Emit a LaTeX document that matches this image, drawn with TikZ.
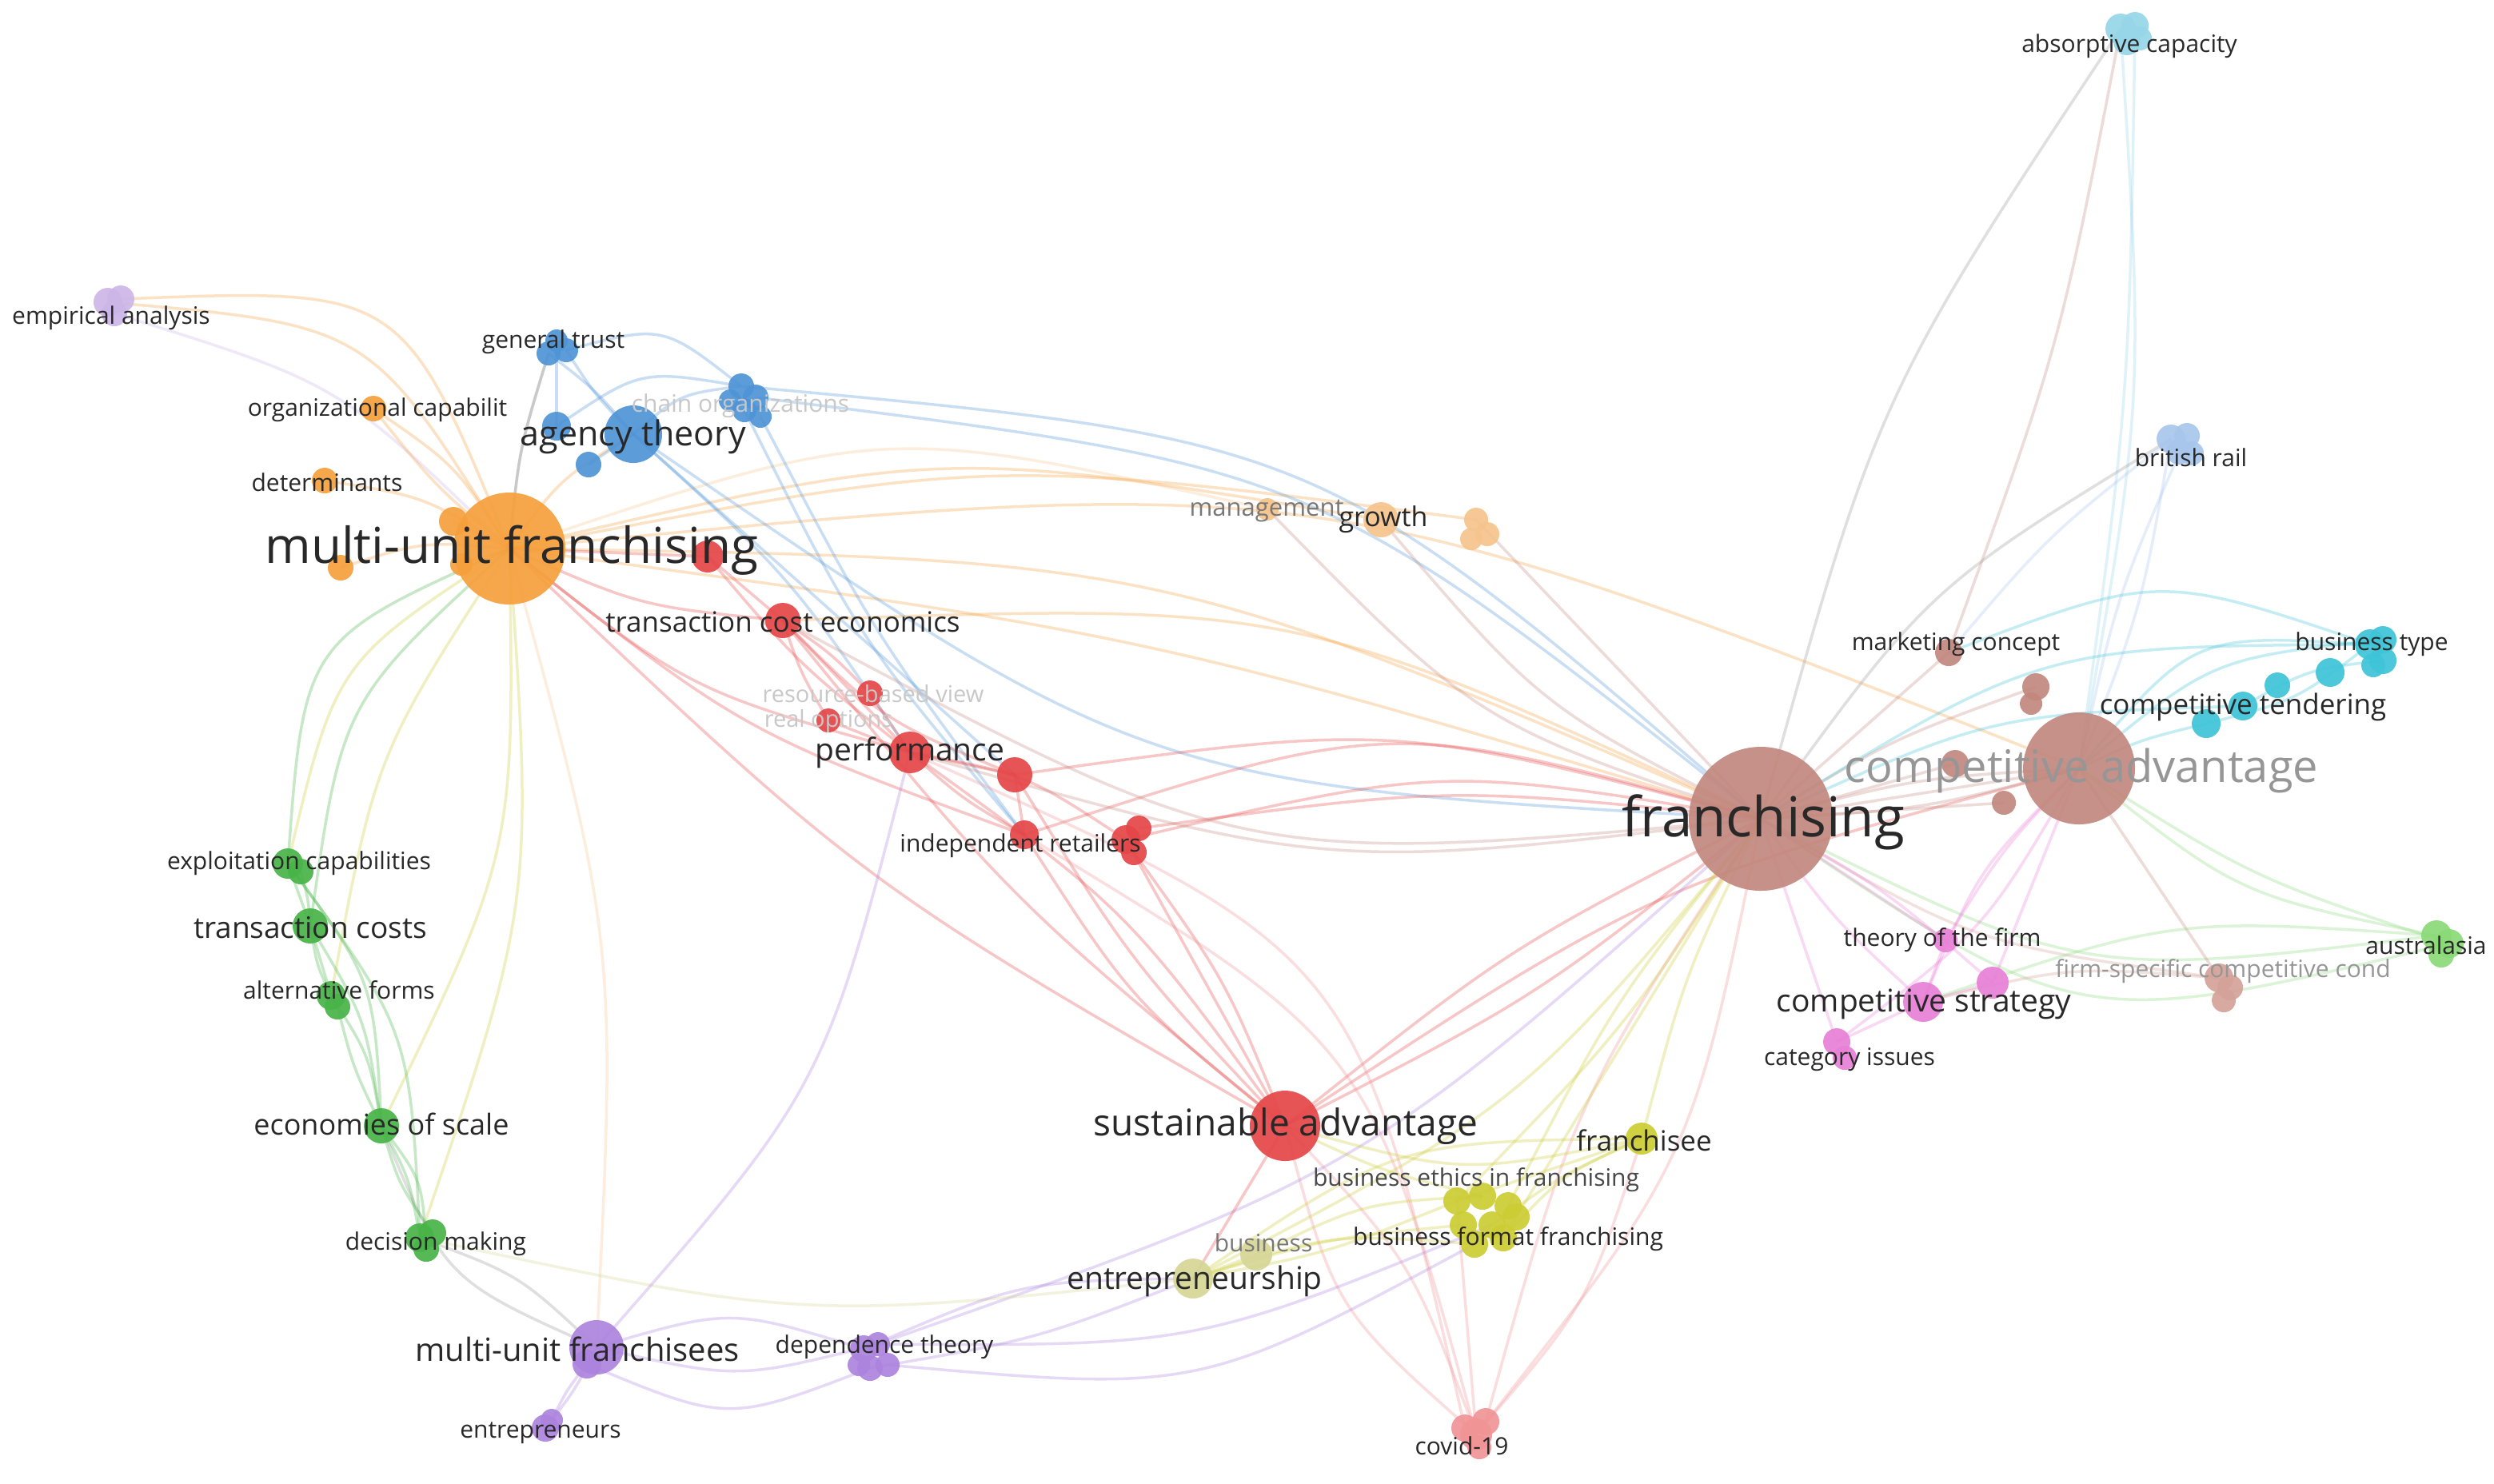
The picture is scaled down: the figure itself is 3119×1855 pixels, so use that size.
\documentclass[tikz,border=0pt]{standalone}
\usepackage{fontspec}
\setmainfont{Open Sans}
\usetikzlibrary{backgrounds,calc}
\definecolor{cred}{RGB}{229,70,72}
\definecolor{cgreen}{RGB}{72,180,72}
\definecolor{cblue}{RGB}{78,148,214}
\definecolor{cyel}{RGB}{204,204,52}
\definecolor{cpur}{RGB}{172,132,222}
\definecolor{ccyan}{RGB}{62,196,216}
\definecolor{corange}{RGB}{246,160,60}
\definecolor{cbrown}{RGB}{194,136,126}
\definecolor{cpink}{RGB}{232,128,214}
\definecolor{clblue}{RGB}{168,198,236}
\definecolor{clgreen}{RGB}{138,218,120}
\definecolor{csalmon}{RGB}{240,148,150}
\definecolor{clpur}{RGB}{204,182,232}
\definecolor{clyel}{RGB}{214,214,150}
\definecolor{clcyan}{RGB}{150,214,232}
\definecolor{clorange}{RGB}{246,196,140}
\definecolor{clbrown}{RGB}{212,162,152}
\definecolor{ctext}{RGB}{40,40,40}
\definecolor{cfade}{RGB}{150,150,150}
\definecolor{cfaint}{RGB}{200,200,200}
\definecolor{cmid}{RGB}{120,120,120}
\tikzset{
  dot/.style={circle, fill=#1, draw=none, inner sep=0pt, fill opacity=0.92, scale=0.1},
  lbl/.style={font=\fontsize{#1}{#1}\selectfont, text=ctext, inner sep=0pt, scale=0.1},
  link/.style={draw=#1, line width=0.35pt, draw opacity=0.3},
}
\begin{document}
\begin{tikzpicture}[x=0.1pt,y=-0.1pt]
\useasboundingbox (0,0) rectangle (3119,1855);
% ---------------- nodes (circles) ----------------
% orange
\node[dot=corange, minimum size=140pt] (muf) at (637,686) {};
\node[dot=corange, minimum size=32pt] (orgcap) at (467,511) {};
\node[dot=corange, minimum size=32pt] (determ) at (406,601) {};
\node[dot=corange, minimum size=36pt] (o1) at (567,652) {};
\node[dot=corange, minimum size=32pt] (o2) at (426,710) {};
\node[dot=corange, minimum size=28pt] (o3) at (577,706) {};
\node[dot=clorange, minimum size=28pt] (mgmt) at (1585,637) {};
\node[dot=clorange, minimum size=44pt] (growth) at (1727,650) {};
\node[dot=clorange, minimum size=30pt] (o4) at (1846,650) {};
\node[dot=clorange, minimum size=30pt] (o5) at (1860,668) {};
\node[dot=clorange, minimum size=28pt] (o6) at (1840,674) {};
% blue
\node[dot=cblue, minimum size=72pt] (agency) at (792,543) {};
\node[dot=cblue, minimum size=30pt] (gtrust) at (686,442) {};
\node[dot=cblue, minimum size=30pt] (gtrust2) at (708,438) {};
\node[dot=cblue, minimum size=28pt] (gtrust3) at (696,426) {};
\node[dot=cblue, minimum size=36pt] (b1) at (696,533) {};
\node[dot=cblue, minimum size=32pt] (b2) at (736,581) {};
\node[dot=cblue, minimum size=32pt] (chain) at (927,483) {};
\node[dot=cblue, minimum size=32pt] (chain2) at (945,497) {};
\node[dot=cblue, minimum size=30pt] (chain3) at (931,513) {};
\node[dot=cblue, minimum size=28pt] (chain4) at (951,521) {};
\node[dot=cblue, minimum size=28pt] (chain5) at (913,501) {};
% red
\node[dot=cred, minimum size=44pt] (tce) at (979,776) {};
\node[dot=cred, minimum size=40pt] (r1) at (885,696) {};
\node[dot=cred, minimum size=32pt] (rbv) at (1088,867) {};
\node[dot=cred, minimum size=30pt] (realopt) at (1036,901) {};
\node[dot=cred, minimum size=52pt] (perf) at (1138,941) {};
\node[dot=cred, minimum size=44pt] (r2) at (1269,969) {};
\node[dot=cred, minimum size=36pt] (indep) at (1281,1044) {};
\node[dot=cred, minimum size=36pt] (r3) at (1408,1050) {};
\node[dot=cred, minimum size=32pt] (r3b) at (1424,1036) {};
\node[dot=cred, minimum size=32pt] (r3c) at (1418,1066) {};
\node[dot=cred, minimum size=88pt] (sustadv) at (1607,1408) {};
\node[dot=csalmon, minimum size=40pt] (covid) at (1846,1794) {};
\node[dot=csalmon, minimum size=34pt] (covid2) at (1858,1778) {};
\node[dot=csalmon, minimum size=34pt] (covid3) at (1832,1786) {};
\node[dot=csalmon, minimum size=30pt] (covid4) at (1850,1810) {};
% yellow
\node[dot=cyel, minimum size=40pt] (franchisee) at (2053,1424) {};
\node[dot=cyel, minimum size=34pt] (eth1) at (1822,1502) {};
\node[dot=cyel, minimum size=34pt] (eth2) at (1854,1496) {};
\node[dot=cyel, minimum size=34pt] (eth3) at (1886,1508) {};
\node[dot=cyel, minimum size=34pt] (eth4) at (1830,1532) {};
\node[dot=cyel, minimum size=34pt] (eth5) at (1866,1532) {};
\node[dot=cyel, minimum size=34pt] (eth6) at (1896,1522) {};
\node[dot=cyel, minimum size=34pt] (eth7) at (1844,1556) {};
\node[dot=cyel, minimum size=34pt] (eth8) at (1880,1548) {};
\node[dot=clyel, minimum size=40pt] (business) at (1571,1569) {};
\node[dot=clyel, minimum size=50pt] (entre) at (1492,1599) {};
% green
\node[dot=cgreen, minimum size=38pt] (exploit) at (360,1080) {};
\node[dot=cgreen, minimum size=32pt] (exploit2) at (376,1090) {};
\node[dot=cgreen, minimum size=44pt] (tcosts) at (388,1158) {};
\node[dot=cgreen, minimum size=36pt] (altf) at (414,1245) {};
\node[dot=cgreen, minimum size=32pt] (altf2) at (422,1259) {};
\node[dot=cgreen, minimum size=44pt] (econ) at (477,1408) {};
\node[dot=cgreen, minimum size=36pt] (dec) at (525,1548) {};
\node[dot=cgreen, minimum size=34pt] (dec2) at (541,1542) {};
\node[dot=cgreen, minimum size=32pt] (dec3) at (533,1562) {};
\node[dot=clgreen, minimum size=38pt] (austral) at (3047,1170) {};
\node[dot=clgreen, minimum size=36pt] (austral2) at (3063,1180) {};
\node[dot=clgreen, minimum size=32pt] (austral3) at (3053,1194) {};
% purple
\node[dot=clpur, minimum size=36pt] (emp) at (135,378) {};
\node[dot=clpur, minimum size=34pt] (emp2) at (151,374) {};
\node[dot=clpur, minimum size=32pt] (emp3) at (143,392) {};
\node[dot=cpur, minimum size=68pt] (mufs) at (746,1685) {};
\node[dot=cpur, minimum size=36pt] (mufs2) at (734,1706) {};
\node[dot=cpur, minimum size=34pt] (entrep) at (682,1786) {};
\node[dot=cpur, minimum size=28pt] (entrep2) at (690,1776) {};
\node[dot=cpur, minimum size=34pt] (dep) at (1080,1687) {};
\node[dot=cpur, minimum size=30pt] (dep2) at (1098,1681) {};
\node[dot=cpur, minimum size=32pt] (dep3) at (1088,1711) {};
\node[dot=cpur, minimum size=30pt] (dep4) at (1110,1707) {};
\node[dot=cpur, minimum size=28pt] (dep5) at (1074,1707) {};
% brown
\node[dot=cbrown, minimum size=180pt] (fr) at (2202,1024) {};
\node[dot=cbrown, minimum size=140pt] (compadv) at (2600,961) {};
\node[dot=cbrown, minimum size=34pt] (mkt) at (2437,816) {};
\node[dot=cbrown, minimum size=34pt] (br1) at (2546,859) {};
\node[dot=cbrown, minimum size=28pt] (br2) at (2540,880) {};
\node[dot=cbrown, minimum size=30pt] (br3) at (2506,1004) {};
\node[dot=cbrown, minimum size=34pt] (br4) at (2445,955) {};
\node[dot=clbrown, minimum size=36pt] (firmsp) at (2775,1223) {};
\node[dot=clbrown, minimum size=32pt] (firmsp2) at (2789,1235) {};
\node[dot=clbrown, minimum size=30pt] (firmsp3) at (2781,1251) {};
% pink
\node[dot=cpink, minimum size=30pt] (thefirm) at (2433,1176) {};
\node[dot=cpink, minimum size=50pt] (cstrat) at (2405,1253) {};
\node[dot=cpink, minimum size=40pt] (p1) at (2492,1229) {};
\node[dot=cpink, minimum size=34pt] (category) at (2297,1303) {};
\node[dot=cpink, minimum size=30pt] (category2) at (2307,1323) {};
% cyan
\node[dot=clcyan, minimum size=38pt] (absorp) at (2652,36) {};
\node[dot=clcyan, minimum size=34pt] (absorp2) at (2670,32) {};
\node[dot=clcyan, minimum size=34pt] (absorp3) at (2660,52) {};
\node[dot=clcyan, minimum size=30pt] (absorp4) at (2676,48) {};
\node[dot=ccyan, minimum size=38pt] (btype) at (2964,806) {};
\node[dot=ccyan, minimum size=34pt] (btype2) at (2980,800) {};
\node[dot=ccyan, minimum size=34pt] (btype3) at (2980,826) {};
\node[dot=ccyan, minimum size=30pt] (btype4) at (2968,832) {};
\node[dot=ccyan, minimum size=36pt] (ct1) at (2759,905) {};
\node[dot=ccyan, minimum size=36pt] (ct2) at (2805,883) {};
\node[dot=ccyan, minimum size=32pt] (ct3) at (2848,857) {};
\node[dot=ccyan, minimum size=36pt] (ct4) at (2914,841) {};
% light blue
\node[dot=clblue, minimum size=36pt] (brail) at (2715,549) {};
\node[dot=clblue, minimum size=32pt] (brail2) at (2735,545) {};
\node[dot=clblue, minimum size=32pt] (brail3) at (2725,565) {};
\node[dot=clblue, minimum size=30pt] (brail4) at (2741,567) {};
% ---------------- edges ----------------
\begin{pgfonlayer}{background}
\fill[white] (0,0) rectangle (3119,1855);
\foreach \na/\nb/\col/\bnd in {
 emp/muf/corange/25, emp2/muf/corange/35, emp3/muf/clpur/12,
 orgcap/muf/corange/10, orgcap/muf/corange/-5, determ/muf/corange/10,
 o1/muf/corange/0, o2/muf/corange/10, o3/muf/corange/0,
 muf/agency/corange/10, muf/gtrust/corange/5, muf/growth/corange/10,
 muf/o4/corange/8, muf/mgmt/clorange/14, muf/fr/corange/10, muf/fr/corange/4, muf/compadv/corange/12,
 muf/tce/cred/-8, muf/r1/cred/0, muf/perf/cred/-10, muf/indep/cred/-8, muf/sustadv/cred/-6,
 muf/exploit/cyel/-20, muf/exploit/cgreen/-30, muf/tcosts/cgreen/-18, muf/altf/cyel/-10,
 muf/econ/cyel/12, muf/dec/cyel/10, muf/mufs/clorange/8,
 gtrust/agency/cblue/5, gtrust2/agency/cblue/-5, gtrust3/b1/cblue/0, gtrust/muf/cblue/-5,
 agency/chain/cblue/15, b1/chain/cblue/20, gtrust2/chain/cblue/25, b2/agency/cblue/0,
 chain2/fr/cblue/14, chain/fr/cblue/16, agency/fr/cblue/-14,
 chain3/indep/cblue/-6, chain4/indep/cblue/-4, agency/perf/cblue/6, agency/r2/cblue/0,
 tce/perf/cred/0, tce/rbv/cred/5, tce/realopt/cred/-5, tce/sustadv/cred/-5,
 r1/tce/cred/0, r1/perf/cred/-5, rbv/perf/cred/0, realopt/perf/cred/0,
 perf/r2/cred/0, perf/indep/cred/-5, perf/r3/cred/10, perf/sustadv/cred/8,
 r2/indep/cred/0, r2/fr/cred/10, r2/sustadv/cred/-5,
 indep/fr/cred/15, r3/fr/cred/10, r3b/fr/cred/6,
 indep/sustadv/cred/-8, r3/sustadv/cred/0, r3c/sustadv/cred/6,
 sustadv/fr/cred/5, sustadv/fr/cred/-5, sustadv/compadv/cred/8,
 sustadv/covid/csalmon/-15, sustadv/covid/csalmon/10,
 covid/fr/csalmon/-12, covid2/fr/csalmon/8, covid/indep/csalmon/-20,
 covid/franchisee/csalmon/-10, covid/eth1/csalmon/0, covid3/perf/csalmon/-25,
 tce/r2/cred/-10, tce/fr/corange/12,
 fr/compadv/cbrown/5, fr/compadv/cbrown/-5, fr/compadv/cbrown/0,
 fr/mkt/cbrown/0, fr/br1/cbrown/5, fr/br3/cbrown/0, fr/br4/cbrown/0,
 fr/absorp/cfade/8, mkt/absorp/cbrown/-4,
 compadv/absorp/clcyan/-6, compadv/absorp2/clcyan/-3,
 fr/brail/cfade/10, compadv/brail/clblue/-5, compadv/brail2/clblue/5, mkt/brail/clblue/5,
 fr/btype/ccyan/14, compadv/btype/ccyan/25, compadv/btype2/ccyan/15,
 compadv/ct1/ccyan/5, fr/ct2/ccyan/10, ct1/btype/ccyan/-10, ct2/btype3/ccyan/10, mkt/btype/ccyan/18,
 fr/austral/clgreen/-15, fr/austral2/clgreen/-22, compadv/austral/clgreen/-12, compadv/austral2/clgreen/-6,
 fr/firmsp/clbrown/-10, compadv/firmsp/cbrown/0,
 fr/thefirm/cpink/0, fr/cstrat/cpink/-5, fr/category/cpink/0, fr/p1/cpink/5,
 cstrat/thefirm/cpink/0, cstrat/category/cpink/0, cstrat/p1/cpink/0,
 cstrat/compadv/cpink/10, thefirm/compadv/cpink/5, p1/compadv/cpink/0, category/compadv/cpink/-10,
 cstrat/firmsp/clbrown/8, cstrat/austral/clgreen/10,
 fr/franchisee/cyel/-5, fr/eth1/cyel/5, fr/eth3/cyel/-5, fr/eth8/cyel/0,
 fr/growth/cbrown/10, fr/mgmt/cbrown/12, fr/o4/cbrown/0,
 fr/entre/cyel/10, fr/dep/cpur/10, fr/perf/cbrown/10, fr/tce/cbrown/15,
 franchisee/eth1/cyel/0, franchisee/eth5/cyel/-5, franchisee/eth8/cyel/-10,
 eth1/entre/cyel/5, eth4/entre/cyel/-5, eth7/entre/cyel/-10,
 business/eth2/cyel/10, business/entre/cyel/0,
 franchisee/sustadv/cyel/12, eth2/sustadv/cyel/5, entre/dec/clyel/8,
 franchisee/entre/cyel/-15, sustadv/entre/cred/0,
 mufs/dep/cpur/15, mufs/dep2/cpur/-12, mufs2/dep3/cpur/-20,
 mufs/entrep/cpur/5, mufs2/entrep2/cpur/-5,
 dep/entre/cpur/10, dep3/entre/cpur/-5, dep2/eth5/cpur/-10, dep4/eth7/cpur/-15,
 mufs/dec/cfade/-10, mufs/econ/cfade/20, mufs/perf/cpur/-12,
 exploit/tcosts/cgreen/0, exploit2/tcosts/cgreen/5,
 tcosts/altf/cgreen/0, tcosts/altf2/cgreen/-8,
 altf/econ/cgreen/10, altf2/econ/cgreen/-5, exploit/econ/cgreen/15, tcosts/econ/cgreen/10,
 econ/dec/cgreen/8, econ/dec2/cgreen/-8, econ/dec3/cgreen/15, exploit/dec/cgreen/15}
 {
  \pgfmathsetmacro\kk{\bnd/50}
  \draw[link=\col] (\na.center) .. controls ($(\na.center)!0.5!(\nb.center)!\kk!90:(\nb.center)$) .. (\nb.center);
 }
\end{pgfonlayer}
% ---------------- labels ----------------
\node[lbl=30] (l-emp) at (139,398) {empirical analysis};
\node[lbl=30] (l-gtrust) at (692,428) {general trust};
\node[lbl=30, text=cfaint] (l-chain) at (926,508) {chain organizations};
\node[lbl=43] (l-agency) at (792,546) {agency theory};
\node[lbl=30] (l-orgcap) at (472,513) {organizational capabilit};
\node[lbl=30] (l-determ) at (409,603) {determinants};
\node[lbl=62] (l-muf) at (640,688) {multi-unit franchising};
\node[lbl=35] (l-tce) at (979,778) {transaction cost economics};
\node[lbl=29, text=cfaint] (l-rbv) at (1092,868) {resource-based view};
\node[lbl=29, text=cfaint] (l-realopt) at (1036,902) {real options};
\node[lbl=39] (l-perf) at (1138,941) {performance};
\node[lbl=30] (l-indep) at (1276,1058) {independent retailers};
\node[lbl=31, text=cmid] (l-mgmt) at (1584,639) {management};
\node[lbl=34] (l-growth) at (1730,650) {growth};
\node[lbl=30] (l-mkt) at (2446,806) {marketing concept};
\node[lbl=30] (l-btype) at (2966,806) {business type};
\node[lbl=35] (l-ct) at (2805,884) {competitive tendering};
\node[lbl=56, text=cfade] (l-compadv) at (2603,964) {competitive advantage};
\node[lbl=69] (l-fr) at (2205,1028) {franchising};
\node[lbl=30] (l-brail) at (2740,572) {british rail};
\node[lbl=30] (l-absorp) at (2663,58) {absorptive capacity};
\node[lbl=30] (l-thefirm) at (2429,1176) {theory of the firm};
\node[lbl=30, text=cfade] (l-firmsp) at (2780,1215) {firm-specific competitive cond};
\node[lbl=30] (l-austral) at (3034,1182) {australasia};
\node[lbl=39] (l-cstrat) at (2406,1256) {competitive strategy};
\node[lbl=30] (l-category) at (2313,1325) {category issues};
\node[lbl=30] (l-exploit) at (374,1080) {exploitation capabilities};
\node[lbl=37] (l-tcosts) at (388,1160) {transaction costs};
\node[lbl=30] (l-altf) at (424,1238) {alternative forms};
\node[lbl=36] (l-econ) at (477,1406) {economies of scale};
\node[lbl=30] (l-dec) at (545,1556) {decision making};
\node[lbl=40] (l-mufs) at (722,1687) {multi-unit franchisees};
\node[lbl=30] (l-dep) at (1106,1685) {dependence theory};
\node[lbl=30] (l-entrep) at (676,1792) {entrepreneurs};
\node[lbl=46] (l-sustadv) at (1608,1408) {sustainable advantage};
\node[lbl=35] (l-franchisee) at (2056,1426) {franchisee};
\node[lbl=30, text=ctext!85] (l-eth) at (1846,1476) {business ethics in franchising};
\node[lbl=30] (l-bff) at (1886,1550) {business format franchising};
\node[lbl=30, text=cmid] (l-business) at (1580,1554) {business};
\node[lbl=39] (l-entre) at (1494,1602) {entrepreneurship};
\node[lbl=30] (l-covid) at (1828,1808) {covid-19};
\end{tikzpicture}
\end{document}
